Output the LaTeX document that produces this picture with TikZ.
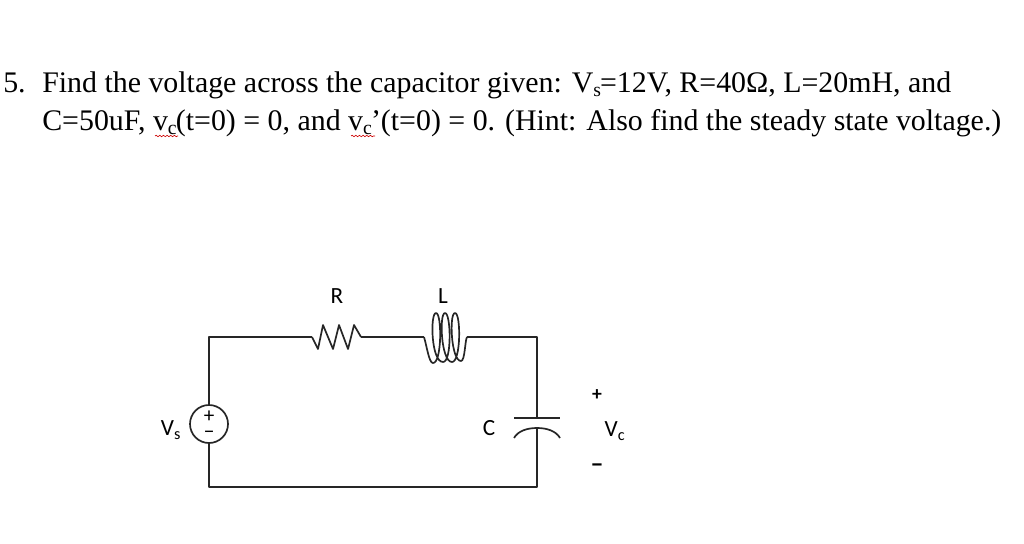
\documentclass[tikz,border=0pt]{standalone}
\usepackage{fontspec}
\setmainfont{Liberation Serif}
\newfontfamily\labelfont{Carlito}
\usetikzlibrary{decorations.pathmorphing}
\newcommand{\lowsub}[1]{\raisebox{-0.28ex}{\fontsize{14}{14}\selectfont #1}\kern-0.6pt}
\tikzset{
    question/.style={anchor=base west, inner sep=0pt, font=\fontsize{21.25}{26}\selectfont},
    wire/.style={line width=1.2pt, line join=round, black!85},
    elem/.style={inner sep=0pt, font=\labelfont\fontsize{16.5}{18}\selectfont},
    sign/.style={inner sep=0pt, font=\labelfont\bfseries\fontsize{14}{14}\selectfont},
    thinsign/.style={inner sep=0pt, align=center, font=\labelfont\fontsize{15}{11.5}\selectfont},
    squiggle/.style={red!80!black, line width=0.45pt, decorate,
        decoration={snake, amplitude=0.5pt, segment length=2.6pt}},
}

\begin{document}
\begin{tikzpicture}[x=0.025cm, y=-0.025cm]
    \useasboundingbox (0,0) rectangle (1024,544);

    \node[question] (num) at (3,93) {5.};
    \node[question] (lineone) at (42,93) {Find the voltage across the capacitor given: V\lowsub{s}=12V, R=40Ω, L=20mH, and};
    \node[question] (linetwo) at (42,131) {C=50uF, v\lowsub{c}(t=0) = 0, and v\lowsub{c}’(t=0) = 0. (Hint: Also find the steady state voltage.)};
    \draw[squiggle] (155,136) -- (178,136);
    \draw[squiggle] (351,136) -- (375,136);

    \node[draw, circle, line width=1.2pt, black!85, minimum size=0.95cm, inner sep=0pt] (vs) at (209,424) {};
    \node[thinsign] (vssigns) at (209,425) {+\\−};

    \coordinate (tl) at (209,337);
    \coordinate (tr) at (537,337);
    \coordinate (bl) at (209,487);
    \coordinate (br) at (537,487);
    \coordinate (ra) at (312,337);
    \coordinate (rb) at (361,337);
    \coordinate (la) at (424,337);
    \coordinate (lb) at (467,337);
    \coordinate (ctop) at (537,418);
    \coordinate (cbot) at (537,428);

    \draw[wire] (vs) -- (tl) -- (ra);
    \draw[wire] (ra) -- (318,349) -- (323,325) -- (333,349) -- (339,325)
        -- (348,349) -- (354,325) -- (rb);
    \draw[wire] (rb) -- (la);
    \draw[wire] (la) .. controls (427,347) and (429,363) .. (433,363)
        .. controls (442,363) and (442,313) .. (436,313)
        .. controls (430,313) and (431,362) .. (443,362)
        .. controls (452,362) and (451,313) .. (445,313)
        .. controls (439,313) and (441,362) .. (452,362)
        .. controls (461,362) and (461,313) .. (455,313)
        .. controls (449,313) and (451,361) .. (461,361)
        .. controls (465,361) and (465,340) .. (lb);
    \draw[wire] (lb) -- (tr) -- (ctop);
    \draw[wire] (514,418) -- (560,418);
    \draw[wire] (514,438) .. controls (518,431) and (527,428) .. (cbot)
        .. controls (547,428) and (556,431) .. (560,438);
    \draw[wire] (cbot) -- (br) -- (bl) -- (vs);

    \node[elem] (rlabel) at (337,296) {R};
    \node[elem] (llabel) at (443,296) {L};
    \node[elem] (clabel) at (489,428) {C};
    \node[elem] (vslabel) at (171,430) {V\textsubscript{s}};
    \node[elem] (vclabel) at (615,431) {V\textsubscript{c}};
    \node[sign] (cplus) at (597,395) {+};
    \node[sign, font=\labelfont\bfseries\fontsize{17}{17}\selectfont] (cminus) at (597,468) {−};
\end{tikzpicture}
\end{document}
